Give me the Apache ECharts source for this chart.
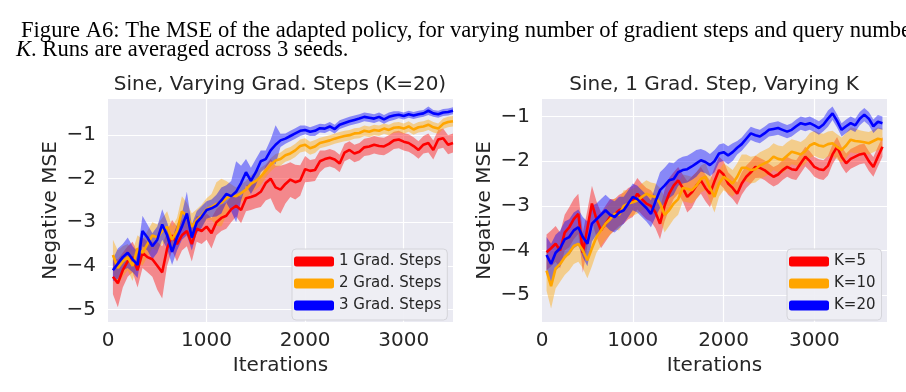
<!DOCTYPE html>
<html>
<head>
<meta charset="utf-8">
<script src="https://cdn.jsdelivr.net/npm/echarts@6/dist/echarts.min.js"></script>
<style>
html,body{margin:0;padding:0;background:#fff;}
#chart{width:906px;height:392px;}
</style>
</head>
<body>
<div id="chart"></div>
<script>
// ---------------- DATA ----------------
const captionLine1 = 'Figure A6: The MSE of the adapted policy, for varying number of gradient steps and query numbe';
const captionLine2 = '{i|K}. Runs are averaged across 3 seeds.';
const titleLeft = 'Sine, Varying Grad. Steps (K=20)';
const titleRight = 'Sine, 1 Grad. Step, Varying K';
const xAxisName = 'Iterations';
const yAxisName = 'Negative MSE';
const namesLeft = ['1 Grad. Steps', '2 Grad. Steps', '3 Grad. Steps'];
const namesRight = ['K=5', 'K=10', 'K=20'];

// iterations sampled (left chart)
const itersLeft = [
  50,100,150,200,250,300,350,400,450,500,
  550,600,650,700,750,800,850,900,950,1000,
  1050,1100,1150,1200,1250,1300,1350,1400,1450,1500,
  1550,1600,1650,1700,1750,1800,1850,1900,1950,2000,
  2050,2100,2150,2200,2250,2300,2350,2400,2450,2500,
  2550,2600,2650,2700,2750,2800,2850,2900,2950,3000,
  3050,3100,3150,3200,3250,3300,3350,3400,3450,3500
];
// iterations sampled (right chart)
const itersRight = [
  50,100,150,200,250,300,350,400,450,500,
  550,600,650,700,750,800,850,900,950,1000,
  1050,1100,1150,1200,1250,1300,1350,1400,1450,1500,
  1550,1600,1650,1700,1750,1800,1850,1900,1950,2000,
  2050,2100,2150,2200,2250,2300,2350,2400,2450,2500,
  2550,2600,2650,2700,2750,2800,2850,2900,2950,3000,
  3050,3100,3150,3200,3250,3300,3350,3400,3450,3500,
  3550,3600,3650,3700,3750
];

// Left: mean Negative MSE
const left1Mean = [
  -4.25,-4.40,-4.10,-3.90,-3.80,-4.10,-3.70,-3.80,-3.85,-4.00,
  -4.15,-3.60,-3.30,-3.50,-3.30,-3.20,-3.50,-3.15,-3.20,-3.10,
  -3.25,-3.00,-2.90,-2.85,-2.70,-2.62,-2.72,-2.45,-2.42,-2.38,
  -2.30,-2.10,-2.00,-2.20,-2.25,-2.12,-2.02,-2.08,-2.04,-1.78,
  -1.82,-1.80,-1.60,-1.55,-1.52,-1.56,-1.65,-1.40,-1.34,-1.42,
  -1.38,-1.28,-1.26,-1.22,-1.25,-1.26,-1.20,-1.12,-1.10,-1.15,
  -1.18,-1.25,-1.34,-1.22,-1.18,-1.34,-1.10,-1.07,-1.22,-1.18
];
const left2Mean = [
  -3.75,-4.05,-3.90,-3.80,-4.00,-3.60,-3.70,-3.50,-3.30,-3.35,
  -3.20,-3.10,-3.40,-3.20,-2.75,-2.85,-3.10,-2.95,-2.85,-2.70,
  -2.65,-2.58,-2.55,-2.45,-2.38,-2.40,-2.33,-2.25,-2.12,-2.05,
  -1.95,-1.82,-1.68,-1.58,-1.55,-1.46,-1.42,-1.35,-1.25,-1.22,
  -1.30,-1.26,-1.18,-1.15,-1.12,-1.08,-1.05,-1.02,-1.00,-0.96,
  -0.95,-0.90,-0.92,-0.88,-0.90,-0.85,-0.88,-0.83,-0.82,-0.85,
  -0.80,-0.87,-0.82,-0.80,-0.76,-0.82,-0.85,-0.74,-0.70,-0.68
];
const left3Mean = [
  -4.10,-3.95,-3.80,-3.70,-3.85,-3.98,-3.20,-3.35,-3.55,-3.40,
  -3.05,-3.30,-3.68,-3.35,-3.10,-2.80,-3.35,-3.00,-2.88,-2.72,
  -2.68,-2.62,-2.50,-2.35,-2.40,-2.30,-2.10,-1.85,-2.05,-1.85,
  -1.60,-1.55,-1.35,-1.22,-1.12,-1.08,-1.02,-0.96,-0.90,-0.88,
  -0.92,-0.90,-0.84,-0.85,-0.80,-0.86,-0.76,-0.72,-0.68,-0.65,
  -0.62,-0.58,-0.60,-0.62,-0.58,-0.64,-0.58,-0.55,-0.53,-0.56,
  -0.52,-0.55,-0.52,-0.50,-0.44,-0.50,-0.52,-0.48,-0.47,-0.44
];
// Left: half-width of shaded band
const left1Spread = [
  0.40,0.55,0.40,0.35,0.35,0.40,0.35,0.35,0.40,0.55,
  0.60,0.40,0.35,0.40,0.35,0.35,0.40,0.30,0.30,0.30,
  0.35,0.30,0.30,0.30,0.30,0.25,0.30,0.30,0.30,0.30,
  0.35,0.40,0.45,0.50,0.55,0.45,0.40,0.40,0.35,0.30,
  0.25,0.25,0.25,0.20,0.20,0.20,0.20,0.20,0.20,0.20,
  0.20,0.20,0.20,0.20,0.20,0.20,0.20,0.20,0.20,0.20,
  0.20,0.20,0.20,0.20,0.22,0.22,0.22,0.22,0.22,0.22
];
const left2Spread = [
  0.35,0.40,0.35,0.30,0.35,0.30,0.30,0.30,0.30,0.30,
  0.30,0.35,0.30,0.30,0.35,0.30,0.30,0.25,0.25,0.25,
  0.30,0.50,0.55,0.40,0.25,0.20,0.20,0.20,0.20,0.20,
  0.20,0.15,0.15,0.15,0.15,0.15,0.15,0.15,0.15,0.15,
  0.15,0.15,0.12,0.12,0.12,0.12,0.12,0.12,0.12,0.12,
  0.12,0.12,0.12,0.12,0.12,0.12,0.12,0.12,0.12,0.12,
  0.12,0.12,0.12,0.12,0.12,0.12,0.12,0.12,0.12,0.12
];
const left3Spread = [
  0.25,0.35,0.30,0.35,0.30,0.30,0.35,0.30,0.30,0.30,
  0.35,0.30,0.30,0.30,0.30,0.50,0.30,0.25,0.25,0.20,
  0.20,0.25,0.30,0.20,0.35,0.70,0.40,0.30,0.30,0.30,
  0.25,0.20,0.25,0.45,0.15,0.12,0.12,0.12,0.12,0.10,
  0.10,0.12,0.10,0.10,0.10,0.10,0.10,0.10,0.10,0.10,
  0.10,0.10,0.10,0.10,0.10,0.10,0.10,0.10,0.08,0.08,
  0.08,0.08,0.08,0.08,0.10,0.08,0.08,0.08,0.08,0.08
];

// Right: mean Negative MSE
const rightK5Mean = [
  -4.04,-3.95,-3.85,-4.00,-3.60,-3.48,-3.30,-3.18,-4.05,-3.50,
  -2.95,-3.30,-3.55,-3.40,-3.25,-3.20,-3.10,-3.05,-2.95,-2.90,
  -2.73,-2.85,-2.95,-3.00,-3.15,-3.40,-3.00,-2.73,-2.55,-2.43,
  -2.60,-2.80,-2.70,-2.55,-2.43,-2.60,-2.73,-2.45,-2.20,-2.30,
  -2.50,-2.60,-2.73,-2.50,-2.35,-2.25,-2.13,-2.15,-2.20,-2.28,
  -2.35,-2.30,-2.20,-2.13,-2.18,-2.20,-2.05,-1.90,-2.00,-2.13,
  -2.18,-2.20,-2.10,-1.85,-1.68,-1.90,-2.05,-1.95,-1.90,-1.85,
  -1.83,-2.00,-2.13,-1.90,-1.68
];
const rightK10Mean = [
  -4.45,-4.80,-4.40,-4.30,-4.15,-4.05,-3.90,-3.85,-4.00,-4.22,
  -3.95,-3.70,-3.55,-3.40,-3.30,-3.18,-3.20,-3.00,-2.95,-2.92,
  -2.88,-2.80,-2.73,-2.78,-2.80,-2.95,-3.20,-3.10,-2.95,-2.85,
  -2.60,-2.62,-2.65,-2.55,-2.40,-2.35,-2.60,-2.80,-2.50,-2.35,
  -2.42,-2.50,-2.35,-2.15,-2.15,-2.20,-2.18,-2.10,-2.05,-2.00,
  -1.90,-1.95,-1.97,-1.88,-1.79,-1.82,-1.85,-1.78,-1.65,-1.60,
  -1.65,-1.67,-1.62,-1.60,-1.68,-1.75,-1.65,-1.52,-1.55,-1.56,
  -1.58,-1.60,-1.55,-1.50,-1.52
];
const rightK20Mean = [
  -4.10,-4.30,-4.05,-3.95,-3.75,-3.70,-3.55,-3.48,-3.70,-3.85,
  -3.40,-3.30,-3.20,-3.10,-3.20,-3.25,-3.15,-3.10,-2.95,-2.80,
  -2.85,-2.95,-3.05,-3.18,-2.90,-2.65,-2.55,-2.43,-2.40,-2.25,
  -2.20,-2.18,-2.12,-2.05,-1.98,-2.02,-2.09,-2.00,-1.83,-1.80,
  -1.87,-1.80,-1.70,-1.62,-1.50,-1.38,-1.42,-1.45,-1.38,-1.30,
  -1.28,-1.26,-1.30,-1.34,-1.30,-1.22,-1.15,-1.18,-1.15,-1.20,
  -1.26,-1.18,-1.05,-0.93,-1.10,-1.30,-1.22,-1.15,-1.20,-1.05,
  -0.96,-1.05,-1.22,-1.12,-1.15
];
// Right: half-width of shaded band
const rightK5Spread = [
  0.40,0.40,0.40,0.40,0.40,0.45,0.45,0.45,0.45,0.40,
  0.40,0.40,0.40,0.40,0.40,0.35,0.35,0.35,0.35,0.35,
  0.35,0.35,0.35,0.35,0.35,0.35,0.35,0.35,0.30,0.30,
  0.30,0.35,0.35,0.30,0.30,0.30,0.30,0.30,0.30,0.30,
  0.25,0.25,0.25,0.25,0.25,0.25,0.25,0.22,0.22,0.22,
  0.22,0.22,0.22,0.22,0.22,0.22,0.22,0.22,0.22,0.22,
  0.22,0.22,0.22,0.22,0.22,0.22,0.22,0.22,0.22,0.22,
  0.22,0.22,0.22,0.22,0.22
];
const rightK10Spread = [
  0.45,0.50,0.45,0.40,0.40,0.40,0.40,0.40,0.40,0.40,
  0.40,0.35,0.35,0.35,0.35,0.35,0.35,0.35,0.30,0.30,
  0.30,0.30,0.30,0.30,0.30,0.35,0.40,0.35,0.35,0.35,
  0.30,0.30,0.30,0.30,0.30,0.30,0.30,0.35,0.30,0.30,
  0.30,0.30,0.30,0.30,0.30,0.30,0.30,0.30,0.30,0.30,
  0.30,0.30,0.30,0.30,0.28,0.28,0.28,0.28,0.28,0.28,
  0.28,0.28,0.28,0.28,0.28,0.28,0.28,0.28,0.28,0.25,
  0.25,0.25,0.25,0.25,0.25
];
const rightK20Spread = [
  0.40,0.45,0.40,0.40,0.40,0.40,0.40,0.40,0.45,0.50,
  0.40,0.35,0.35,0.35,0.35,0.35,0.35,0.30,0.30,0.30,
  0.30,0.30,0.30,0.30,0.35,0.40,0.40,0.40,0.35,0.30,
  0.30,0.30,0.30,0.30,0.25,0.25,0.25,0.25,0.20,0.20,
  0.20,0.20,0.15,0.15,0.15,0.15,0.15,0.15,0.15,0.15,
  0.15,0.15,0.15,0.15,0.15,0.15,0.15,0.15,0.15,0.15,
  0.15,0.15,0.18,0.15,0.15,0.15,0.15,0.15,0.15,0.15,
  0.15,0.15,0.15,0.15,0.15
];

// ---------------- STYLE ----------------
const COLORS = ['#ff0000', '#ffa500', '#0000ff'];
const TXT = '#262626';
const FONT = 'DejaVu Sans';

function buildSeries(idx, iters, name, mean, spread, color) {
  const bandData = iters.map((x, i) => [x, mean[i] - spread[i], mean[i] + spread[i]]);
  const band = {
    type: 'custom', name: 'band_' + name, xAxisIndex: idx, yAxisIndex: idx, silent: true,
    clip: true,
    data: bandData,
    encode: { x: 0, y: [1, 2] },
    renderItem: function (params, api) {
      if (params.dataIndex !== 0) return null;
      const pts = [];
      for (let i = 0; i < bandData.length; i++) pts.push(api.coord([bandData[i][0], bandData[i][1]]));
      for (let i = bandData.length - 1; i >= 0; i--) pts.push(api.coord([bandData[i][0], bandData[i][2]]));
      return { type: 'polygon', shape: { points: pts }, style: { fill: color, opacity: 0.42 } };
    }
  };
  const line = {
    type: 'line', name: name, xAxisIndex: idx, yAxisIndex: idx, showSymbol: false, symbol: 'none',
    silent: true, smooth: false,
    data: iters.map((x, i) => [x, mean[i]]),
    itemStyle: { color: color },
    lineStyle: { color: color, width: 2.6 }
  };
  return [band, line];
}

const series = [].concat(
  buildSeries(0, itersLeft, namesLeft[0], left1Mean, left1Spread, COLORS[0]),
  buildSeries(0, itersLeft, namesLeft[1], left2Mean, left2Spread, COLORS[1]),
  buildSeries(0, itersLeft, namesLeft[2], left3Mean, left3Spread, COLORS[2]),
  buildSeries(1, itersRight, namesRight[0], rightK5Mean, rightK5Spread, COLORS[0]),
  buildSeries(1, itersRight, namesRight[1], rightK10Mean, rightK10Spread, COLORS[1]),
  buildSeries(1, itersRight, namesRight[2], rightK20Mean, rightK20Spread, COLORS[2])
);

const minusFmt = v => (v < 0 ? '\u2212' + Math.abs(v) : String(v));

function xAxisCfg(idx, max) {
  return {
    gridIndex: idx, type: 'value', min: 0, max: max, interval: 1000,
    axisLine: { show: false }, axisTick: { show: false },
    splitLine: { show: true, showMinLine: false, showMaxLine: false, lineStyle: { color: '#ffffff', width: 1.2 } },
    axisLabel: { fontSize: 20, color: TXT, fontFamily: FONT, margin: 9, showMaxLabel: false, formatter: v => String(v) },
    name: xAxisName, nameLocation: 'middle', nameGap: 33,
    nameTextStyle: { fontSize: 20, color: TXT, fontFamily: FONT }
  };
}
function yAxisCfg(idx, min, max) {
  return {
    gridIndex: idx, type: 'value', min: min, max: max, splitNumber: 5,
    axisLine: { show: false }, axisTick: { show: false },
    splitLine: { show: true, showMinLine: false, showMaxLine: false, lineStyle: { color: '#ffffff', width: 1.2 } },
    axisLabel: { fontSize: 20, color: TXT, fontFamily: FONT, margin: 12, showMinLabel: false, showMaxLabel: false, formatter: minusFmt },
    name: yAxisName, nameLocation: 'middle', nameGap: 47,
    nameTextStyle: { fontSize: 20, color: TXT, fontFamily: FONT }
  };
}
function legendCfg(left, names) {
  return {
    data: names, orient: 'vertical', left: left, top: 249,
    icon: 'roundRect', itemWidth: 40, itemHeight: 10, itemGap: 7, itemTextGap: 8,
    selectedMode: false,
    backgroundColor: 'rgba(238,238,244,0.92)', borderColor: '#d4d4da', borderWidth: 1, borderRadius: 4,
    padding: [5, 6, 7, 2],
    textStyle: { fontSize: 15, color: TXT, fontFamily: FONT }
  };
}

const chart = echarts.init(document.getElementById('chart'), null, { renderer: 'canvas' });
chart.setOption({
  animation: false,
  backgroundColor: '#ffffff',
  grid: [
    { left: 108, top: 99, width: 345, height: 223, show: true, backgroundColor: '#EAEAF2', borderWidth: 0 },
    { left: 542, top: 99, width: 345, height: 223, show: true, backgroundColor: '#EAEAF2', borderWidth: 0 }
  ],
  xAxis: [xAxisCfg(0, 3500), xAxisCfg(1, 3800)],
  yAxis: [yAxisCfg(0, -5.29, -0.17), yAxisCfg(1, -5.6, -0.61)],
  legend: [legendCfg(292, namesLeft), legendCfg(787, namesRight)],
  graphic: [
    { type: 'text', left: 21, top: 20, style: { text: captionLine1, font: '22.6px "Liberation Serif"', fill: '#000' } },
    { type: 'text', left: 16, top: 39, style: { text: captionLine2, font: '22.6px "Liberation Serif"', fill: '#000',
      rich: { i: { fontStyle: 'italic', fontSize: 22.6, fontFamily: 'Liberation Serif' } } } },
    { type: 'text', x: 280, y: 85, style: { text: titleLeft, font: '20px "DejaVu Sans"', fill: TXT, align: 'center', verticalAlign: 'middle' } },
    { type: 'text', x: 714, y: 85, style: { text: titleRight, font: '20px "DejaVu Sans"', fill: TXT, align: 'center', verticalAlign: 'middle' } }
  ],
  series: series
});
</script>
</body>
</html>
